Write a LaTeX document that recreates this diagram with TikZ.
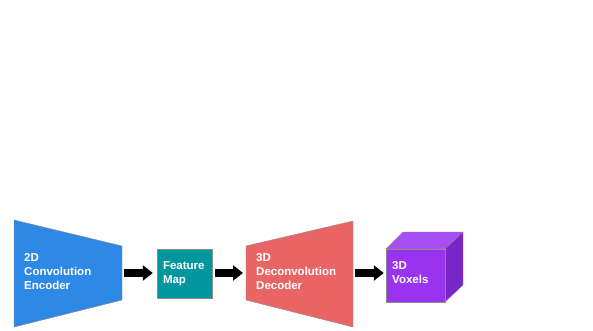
\documentclass[tikz,border=0pt]{standalone}
\usepackage{fontspec}
\setmainfont{Liberation Sans}
\usepackage{xcolor}
\usepackage{tikz}
\usetikzlibrary{arrows.meta,positioning}
\definecolor{encblue}  {RGB}{ 45, 137, 229}
\definecolor{mapteal}  {RGB}{  0, 150, 158}
\definecolor{decred}   {RGB}{233, 101, 101}
\definecolor{voxfront} {RGB}{154,  51, 240}
\definecolor{voxtop}   {RGB}{167,  79, 245}
\definecolor{voxside}  {RGB}{122,  37, 201}

\tikzset{
  edge/.style={draw=black!45, line width=0.4pt},
  label/.style={white, font=\fontsize{11.5}{14}\selectfont\bfseries, align=left, inner sep=0pt},
  bigarrow/.style={black, line width=8pt, -{Triangle[length=10pt,width=15pt]}},
}

\begin{document}
\begin{tikzpicture}[x=1pt,y=-1pt]
      \useasboundingbox (0,0) rectangle (593,330);
      % encoder
      \fill[encblue,edge] (14,220) -- (122,246) -- (122,300) -- (14,327) -- cycle;
      \coordinate (enc) at (122,273);
      \node[label,anchor=west] (enclabel) at (24,272) {2D\\Convolution\\Encoder};
      % feature map
      \node[label,fill=mapteal,edge,inner sep=6pt,text width=43pt,minimum height=49pt]
            (fmap) at (184.5,273.5) {Feature\\Map};
      % decoder
      \fill[decred,edge] (246,246) -- (353,221) -- (353,327) -- (246,300) -- cycle;
      \coordinate (decin)  at (246,273);
      \coordinate (decout) at (353,273);
      \node[label,anchor=west] (declabel) at (256,272) {3D\\Deconvolution\\Decoder};
      % voxels
      \fill[voxtop,edge]  (386,249) -- (403,232) -- (463,232) -- (445,249) -- cycle;
      \fill[voxside,edge] (445,249) -- (463,232) -- (463,285) -- (445,302) -- cycle;
      \node[fill=voxfront,edge,minimum width=59pt,minimum height=53pt] (vox) at (415.5,275.5) {};
      \node[label,anchor=west] (voxlabel) at (392,272.5) {3D\\Voxels};
      % arrows
      \draw[bigarrow,shorten <=2pt,shorten >=4pt] (enc) -- (fmap.west |- enc);
      \draw[bigarrow,shorten <=3pt,shorten >=3pt] (fmap.east |- decin) -- (decin);
      \draw[bigarrow,shorten <=2pt,shorten >=2pt] (decout) -- (vox.west |- decout);
    \end{tikzpicture}
\end{document}
